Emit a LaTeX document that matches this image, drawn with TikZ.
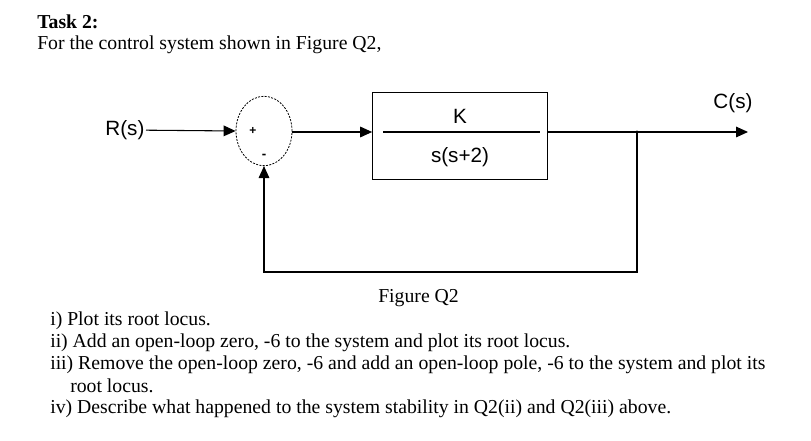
\documentclass[tikz,border=0pt]{standalone}
\usepackage{fontspec}
\setmainfont{Liberation Serif}
\newfontfamily\dsans{Liberation Sans}
\usetikzlibrary{arrows.meta,shapes.geometric}
\begin{document}
\begin{tikzpicture}[x=0.75pt,y=-0.75pt,
  txt/.style={anchor=west,inner sep=0pt,font=\fontsize{14.8}{17}\selectfont},
  lab/.style={inner sep=1pt,font=\dsans\fontsize{15.5}{17}\selectfont},
  sig/.style={-{Triangle[length=9pt,width=8pt]},line width=0.8pt},
  ln/.style={line width=0.8pt}]
\useasboundingbox[fill=white] (0,0) rectangle (811,441);
\node[txt,font=\bfseries\fontsize{14.8}{17}\selectfont] (t1) at (37,22) {Task 2:};
\node[txt] (t2) at (37,45) {For the control system shown in Figure Q2,};
\node[lab,anchor=east] (R) at (146,130) {R(s)};
\node[ellipse,draw,dash pattern=on 1.5pt off 1pt,line width=0.6pt,minimum width=42pt,minimum height=52pt,inner sep=0pt] (sum) at (264,131) {};
\node[font=\dsans\bfseries\fontsize{9}{9}\selectfont,inner sep=0pt] (plus) at (253,131) {+};
\node[font=\dsans\bfseries\fontsize{10}{9}\selectfont,inner sep=0pt] (minus) at (264,156) {-};
\node[draw,ln,minimum width=131pt,minimum height=65pt,inner sep=0pt] (G) at (460,136) {};
\coordinate (fl) at (383,132); \coordinate (fr) at (540,132);
\draw[ln] (fl) -- (fr);
\node[lab] (K) at (460,116) {K};
\node[lab] (den) at (460,157) {s(s+2)};
\coordinate (j) at (637,132);
\coordinate (out) at (748,132);
\coordinate (fb1) at (637,272);
\coordinate (fb2) at (264,272);
\node[lab] (C) at (733,103) {C(s)};
\draw[sig] (R) -- (sum.west);
\draw[sig] (sum.east |- 0,132) -- (G.west |- 0,132);
\draw[ln] (G.east |- 0,132) -- (j);
\draw[sig] (j) -- (out);
\fill (j) circle (1.6);
\draw[sig] (j) -- (fb1) -- (fb2) -- (sum.south);
\node[txt] (fig) at (378,298) {Figure Q2};
\node[txt] (q1) at (50,321) {i) Plot its root locus.};
\node[txt] (q2) at (50,343) {ii) Add an open-loop zero, -6 to the system and plot its root locus.};
\node[txt] (q3) at (50,365) {iii) Remove the open-loop zero, -6 and add an open-loop pole, -6 to the system and plot its};
\node[txt] (q3b) at (70,386) {root locus.};
\node[txt] (q4) at (50,409) {iv) Describe what happened to the system stability in Q2(ii) and Q2(iii) above.};
\end{tikzpicture}
\end{document}
